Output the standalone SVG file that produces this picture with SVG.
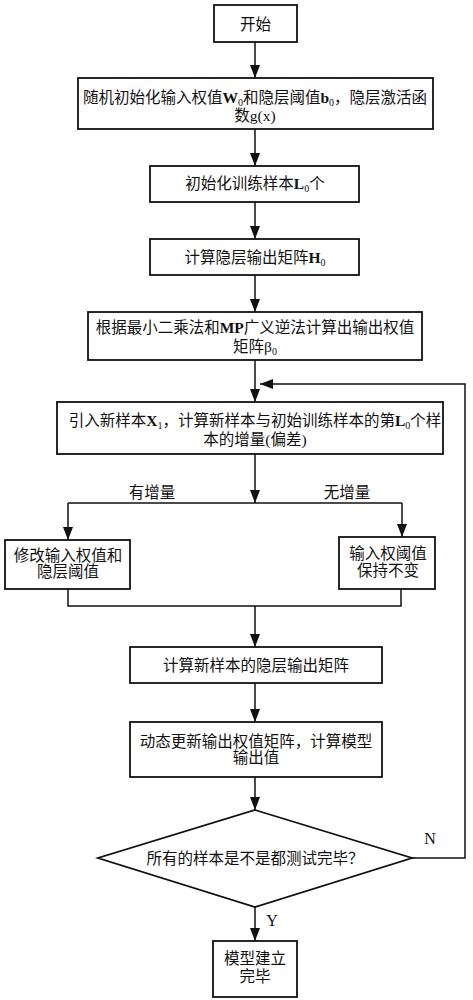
<svg xmlns="http://www.w3.org/2000/svg" width="473" height="1000" viewBox="0 0 473 1000">
<style>
.box{fill:#fff;stroke:#111;stroke-width:1.8}
.ln{fill:none;stroke:#111;stroke-width:1.5}
text{font-family:'Liberation Serif','Noto Sans CJK SC',serif;font-size:15.5px;fill:#111;text-anchor:middle}
.b{font-weight:bold}
.s{font-size:10px}
.lbl{font-size:16px}
</style>
<defs>
<marker id="ah" markerUnits="userSpaceOnUse" markerWidth="13" markerHeight="10" refX="13" refY="5" orient="auto">
<path d="M0,0 L13,5 L0,10 z" fill="#111"/>
</marker>
</defs>
<rect width="473" height="1000" fill="#fff"/>
<g id="connectors">
<line class="ln" x1="255" y1="42" x2="255" y2="78" marker-end="url(#ah)"/>
<line class="ln" x1="255" y1="129" x2="255" y2="166" marker-end="url(#ah)"/>
<line class="ln" x1="255" y1="202" x2="255" y2="239" marker-end="url(#ah)"/>
<line class="ln" x1="255" y1="275" x2="255" y2="312" marker-end="url(#ah)"/>
<line class="ln" x1="255" y1="360" x2="255" y2="402" marker-end="url(#ah)"/>
<polyline class="ln" points="412,858 465,858 465,384 260,384" marker-end="url(#ah)"/>
<line class="ln" x1="255" y1="454" x2="255" y2="503" marker-end="url(#ah)"/>
<line class="ln" x1="68" y1="503" x2="402" y2="503"/>
<line class="ln" x1="68" y1="503" x2="68" y2="540" marker-end="url(#ah)"/>
<line class="ln" x1="402" y1="503" x2="402" y2="537" marker-end="url(#ah)"/>
<polyline class="ln" points="68,589 68,606 401,606 401,589"/>
<line class="ln" x1="255" y1="606" x2="255" y2="647" marker-end="url(#ah)"/>
<line class="ln" x1="255" y1="683" x2="255" y2="722" marker-end="url(#ah)"/>
<line class="ln" x1="255" y1="777" x2="255" y2="810" marker-end="url(#ah)"/>
<line class="ln" x1="255" y1="907" x2="255" y2="941" marker-end="url(#ah)"/>
<text x="152" y="498">有增量</text>
<text x="347" y="498">无增量</text>
<text class="lbl" x="430" y="844">N</text>
<text class="lbl" x="272" y="926">Y</text>
</g>
<g id="start">
<rect class="box" x="214" y="5" width="83" height="37"/>
<text x="255.5" y="29.5">开始</text>
</g>
<g id="init-weights">
<rect class="box" x="78" y="78" width="355" height="51"/>
<text x="255" y="103">随机初始化输入权值<tspan class="b">W</tspan><tspan class="s" dy="3">0</tspan><tspan dy="-3">和隐层阈值</tspan><tspan class="b">b</tspan><tspan class="s" dy="3">0</tspan><tspan dy="-3">，隐层激活函</tspan></text>
<text x="255" y="120.5">数g(x)</text>
</g>
<g id="init-samples">
<rect class="box" x="150" y="166" width="209" height="36"/>
<text x="255" y="189">初始化训练样本<tspan class="b">L</tspan><tspan class="s" dy="3">0</tspan><tspan dy="-3">个</tspan></text>
</g>
<g id="hidden-output">
<rect class="box" x="150" y="239" width="209" height="36"/>
<text x="255" y="263">计算隐层输出矩阵<tspan class="b">H</tspan><tspan class="s" dy="3">0</tspan></text>
</g>
<g id="output-weights">
<rect class="box" x="88" y="312" width="334" height="48"/>
<text x="255" y="333">根据最小二乘法和<tspan class="b">MP</tspan>广义逆法计算出输出权值</text>
<text x="255" y="351.5">矩阵β<tspan class="s" dy="3">0</tspan></text>
</g>
<g id="new-sample">
<rect class="box" x="57" y="402" width="386" height="52"/>
<text x="255" y="425.5">引入新样本<tspan class="b">X</tspan><tspan class="s" dy="3">1</tspan><tspan dy="-3">，计算新样本与初始训练样本的第</tspan><tspan class="b">L</tspan><tspan class="s" dy="3">0</tspan><tspan dy="-3">个样</tspan></text>
<text x="255" y="444.5">本的增量(偏差)</text>
</g>
<g id="modify">
<rect class="box" x="5" y="540" width="125" height="49"/>
<text x="68" y="560.5">修改输入权值和</text>
<text x="68" y="577">隐层阈值</text>
</g>
<g id="keep">
<rect class="box" x="339" y="537" width="96" height="52"/>
<text x="388" y="559">输入权阈值</text>
<text x="388" y="576">保持不变</text>
</g>
<g id="new-hidden">
<rect class="box" x="130" y="647" width="252" height="36"/>
<text x="256" y="671">计算新样本的隐层输出矩阵</text>
</g>
<g id="update">
<rect class="box" x="130" y="722" width="252" height="55"/>
<text x="256" y="747">动态更新输出权值矩阵，计算模型</text>
<text x="256" y="763">输出值</text>
</g>
<g id="decision">
<polygon class="box" points="255,810 412,858 255,907 98,858"/>
<text x="255" y="864">所有的样本是不是都测试完毕？</text>
</g>
<g id="end">
<rect class="box" x="213" y="941" width="84" height="56"/>
<text x="255" y="964">模型建立</text>
<text x="255" y="982">完毕</text>
</g>
</svg>
